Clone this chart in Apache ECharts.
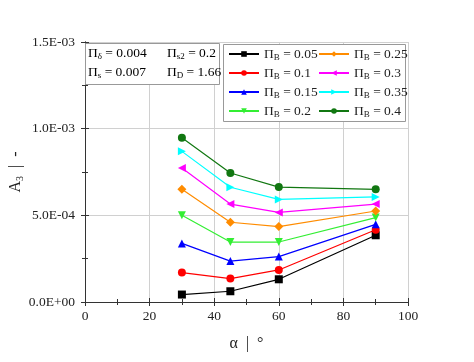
<!DOCTYPE html>
<html><head><meta charset="utf-8">
<script src="https://cdn.jsdelivr.net/npm/echarts@6/dist/echarts.min.js"></script>
<style>html,body{margin:0;padding:0;background:#fff}#c{width:474px;height:362px}</style>
</head><body><div id="c"></div>
<script>
const alpha = [30, 45, 60, 90];
const piB = ['0.05', '0.1', '0.15', '0.2', '0.25', '0.3', '0.35', '0.4'];
const s005 = [4.3e-5, 6.2e-5, 1.31e-4, 3.85e-4];
const s010 = [1.70e-4, 1.35e-4, 1.85e-4, 4.17e-4];
const s015 = [3.38e-4, 2.36e-4, 2.62e-4, 4.48e-4];
const s020 = [5.00e-4, 3.46e-4, 3.46e-4, 4.87e-4];
const s025 = [6.50e-4, 4.60e-4, 4.35e-4, 5.25e-4];
const s030 = [7.73e-4, 5.65e-4, 5.17e-4, 5.65e-4];
const s035 = [8.69e-4, 6.62e-4, 5.92e-4, 6.06e-4];
const s040 = [9.48e-4, 7.44e-4, 6.63e-4, 6.50e-4];
const yTicks = ['0.0E+00', '5.0E-04', '1.0E-03', '1.5E-03'];
const xTicks = [0, 20, 40, 60, 80, 100];

const values = [s005, s010, s015, s020, s025, s030, s035, s040];
const colors = ['#000000', '#ff0000', '#0000ff', '#33ee33', '#ff8c00', '#ff00ff', '#00ffff', '#117711'];
const symbols = ['rect', 'circle', 'triangle', 'path://M0,0 L10,0 L5,10 Z', 'diamond', 'path://M10,0 L10,10 L0,5 Z', 'path://M0,0 L0,10 L10,5 Z', 'circle'];
const FONT = 'Liberation Serif';

const names = piB.map(v => 'PB' + v);
const series = values.map((arr, i) => ({
  name: names[i], type: 'line', data: arr.map((v, j) => [alpha[j], v]),
  symbol: symbols[i], symbolSize: i === 4 ? 9 : 8,
  lineStyle: { color: colors[i], width: 1.2 }, itemStyle: { color: colors[i] },
  xAxisIndex: 0, yAxisIndex: 0, animation: false
}));

const rich = {
  p: { fontFamily: FONT, fontSize: 13.5, color: '#222' },
  s: { fontFamily: FONT, fontSize: 9, color: '#222', padding: [7, 0, 0, 0] }
};
const legendFmt = n => '{p|Π}{s|B}{p| = ' + n.slice(2) + '}';
function legend(left, items) {
  return {
    orient: 'vertical', left: left, top: 42, itemWidth: 30, itemHeight: 7, itemGap: 4,
    data: items, formatter: legendFmt, textStyle: { rich: rich },
    selectedMode: false
  };
}
const axisLine = { show: true, lineStyle: { color: '#333', width: 1 } };
const grid = { left: 85, right: 66, top: 42, bottom: 60, outerBoundsMode: 'none', containLabel: false };
const option = {
  backgroundColor: '#fff',
  animation: false,
  grid: grid,
  legend: [legend(223, [names[0], names[1], names[2], names[3]]), legend(313, [names[4], names[5], names[6], names[7]])],
  xAxis: [{
    type: 'value', min: 0, max: 100, interval: 20, position: 'bottom',
    axisLine: axisLine, axisTick: { show: true, length: 4, lineStyle: { color: '#333' } },
    minorTick: { show: true, splitNumber: 2, length: 3, lineStyle: { color: '#333' } },
    axisLabel: { fontFamily: FONT, fontSize: 13.5, color: '#222', margin: 7, formatter: v => xTicks.includes(v) ? String(v) : '' },
    splitLine: { show: true, lineStyle: { color: '#d0d0d0' } },
    name: 'α  |  °', nameLocation: 'middle', nameGap: 34, nameMoveOverlap: false,
    nameTextStyle: { fontFamily: FONT, fontSize: 16, color: '#222' }
  }, {
    type: 'value', min: 0, max: 100, interval: 20, position: 'top',
    axisLine: axisLine, axisTick: { show: true, inside: false, length: 4, lineStyle: { color: '#333' } },
    minorTick: { show: true, splitNumber: 2, length: 3 },
    axisLabel: { show: false }, splitLine: { show: false }
  }],
  yAxis: [{
    type: 'value', min: 0, max: 1.5e-3, interval: 5e-4,
    axisLine: axisLine, axisTick: { show: true, length: 4, lineStyle: { color: '#333' } },
    minorTick: { show: true, splitNumber: 2, length: 3, lineStyle: { color: '#333' } },
    axisLabel: { fontFamily: FONT, fontSize: 13.5, color: '#222', margin: 10,
      formatter: v => yTicks[Math.round(v / 5e-4)] || '' },
    splitLine: { show: true, lineStyle: { color: '#d0d0d0' } },
    name: '{p|A}{s|3}{p|  |  -}', nameLocation: 'middle', nameGap: 60, nameMoveOverlap: false,
    nameTextStyle: { rich: { p: { fontFamily: FONT, fontSize: 16, color: '#222' }, s: { fontFamily: FONT, fontSize: 10, color: '#222', padding: [8, 0, 0, 0] } } }
  }, {
    type: 'value', min: 0, max: 1.5e-3, interval: 5e-4, position: 'right',
    axisLine: axisLine, axisTick: { show: true, length: 4, lineStyle: { color: '#333' } },
    minorTick: { show: true, splitNumber: 2, length: 3 },
    axisLabel: { show: false }, splitLine: { show: false }
  }],
  series: series,
  graphic: [
    { type: 'rect', shape: { x: 85.5, y: 43.5, width: 134, height: 41 }, style: { fill: '#fff', stroke: '#999', lineWidth: 1 }, z: 10 },
    { type: 'rect', shape: { x: 223.5, y: 44.5, width: 182, height: 77 }, style: { fill: '#fff', stroke: '#999', lineWidth: 1 }, z: 1 },
    { type: 'text', left: 88, top: 46, z: 11, style: { text: '{p|Π}{s|δ}{p| = 0.004}', rich: rich } },
    { type: 'text', left: 167, top: 46, z: 11, style: { text: '{p|Π}{s|s2}{p| = 0.2}', rich: rich } },
    { type: 'text', left: 88, top: 65, z: 11, style: { text: '{p|Π}{s|s}{p| = 0.007}', rich: rich } },
    { type: 'text', left: 167, top: 65, z: 11, style: { text: '{p|Π}{s|D}{p| = 1.66}', rich: rich } }
  ]
};
const chart = echarts.init(document.getElementById('c'), null, { renderer: 'canvas' });
chart.setOption(option);
</script></body></html>
